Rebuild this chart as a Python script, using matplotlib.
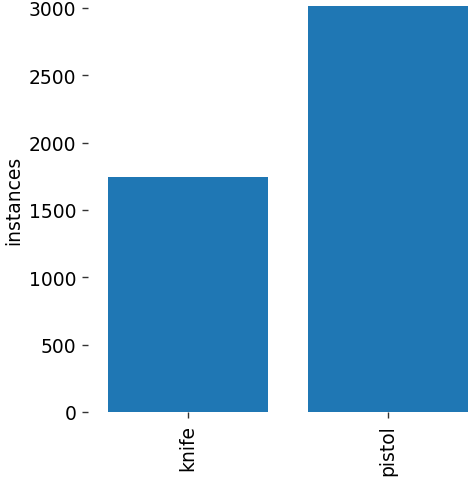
import numpy as np
import matplotlib.pyplot as plt

classes = ['knife', 'pistol']
instances = [1747, 3012]

fig = plt.figure(figsize=(4.74, 4.81), dpi=100)
W, H = 474, 481
# axes placed so that it runs a little past the right and top edges, as in the reference
left, right = 88, 488
bottom, top = 481 - 413, 481 + 13
ax = fig.add_axes([left / W, bottom / H, (right - left) / W, (top - bottom) / H])

x = np.arange(len(classes))
ax.bar(x, instances, width=0.8, color='#1f77b4')
ax.set_xlim(-0.5, len(classes) - 0.5)
ax.set_ylim(0, max(instances) * 1.05)
ax.set_yticks([0, 500, 1000, 1500, 2000, 2500, 3000])
ax.set_xticks(x)
ax.set_xticklabels(classes, rotation=90)
ax.set_ylabel('instances', fontsize=13.5)

for s in ax.spines.values():
    s.set_visible(False)
ax.tick_params(axis='both', labelsize=13.5, length=4.5, width=1, pad=4, color='#333333')

fig.savefig('out.png', dpi=100)
